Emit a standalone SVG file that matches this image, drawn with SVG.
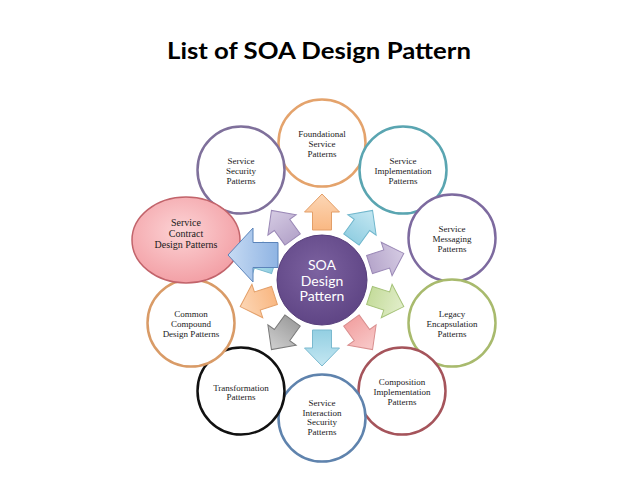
<svg xmlns="http://www.w3.org/2000/svg" xmlns:xlink="http://www.w3.org/1999/xlink" width="638" height="479" viewBox="0 0 638 479">
<style>
.node circle{fill:#ffffff;stroke-width:2.5}
.lbl{font-family:"Liberation Serif","Times New Roman",serif;font-size:9px;fill:#1a1a1a;text-anchor:middle}
.title{font-family:Lato,"Open Sans","Liberation Sans",sans-serif;font-weight:bold;font-size:22px;fill:#000;text-anchor:middle}
.soa{font-family:Lato,"Open Sans","Liberation Sans",sans-serif;font-size:14px;fill:#ffffff;text-anchor:middle}
.arw{stroke-width:1;stroke-linejoin:miter}
</style>
<defs>
<path id="arr" d="M50,-9.5 L68,-9.5 L68,-17.5 L86,0 L68,17.5 L68,9.5 L50,9.5 Z"/>
<linearGradient id="gOr" x1="0" y1="0" x2="1" y2="0"><stop offset="0" stop-color="#f9b883"/><stop offset="1" stop-color="#fcd6b5"/></linearGradient>
<linearGradient id="gLv" x1="0" y1="0" x2="1" y2="0"><stop offset="0" stop-color="#b6a6cb"/><stop offset="1" stop-color="#d5cbe3"/></linearGradient>
<linearGradient id="gCy" x1="0" y1="0" x2="1" y2="0"><stop offset="0" stop-color="#93cfe2"/><stop offset="1" stop-color="#c4e7f2"/></linearGradient>
<linearGradient id="gGr" x1="0" y1="0" x2="1" y2="0"><stop offset="0" stop-color="#c5dc9c"/><stop offset="1" stop-color="#e2eecb"/></linearGradient>
<linearGradient id="gPk" x1="0" y1="0" x2="1" y2="0"><stop offset="0" stop-color="#f2a3a3"/><stop offset="1" stop-color="#f8caca"/></linearGradient>
<linearGradient id="gGy" x1="0" y1="0" x2="1" y2="0"><stop offset="0" stop-color="#9f9f9f"/><stop offset="1" stop-color="#cfcfcf"/></linearGradient>
<linearGradient id="gBl" x1="0" y1="0" x2="1" y2="0"><stop offset="0" stop-color="#c6daf3"/><stop offset="1" stop-color="#8fb4e3"/></linearGradient>
<radialGradient id="gPink" cx="0.45" cy="0.4" r="0.65"><stop offset="0" stop-color="#fcd3d5"/><stop offset="1" stop-color="#f29ca2"/></radialGradient>
<radialGradient id="gSoa" cx="0.45" cy="0.4" r="0.65"><stop offset="0" stop-color="#7c62a0"/><stop offset="1" stop-color="#5d4383"/></radialGradient>
</defs>

<text class="title" x="319" y="59" textLength="304" lengthAdjust="spacingAndGlyphs">List of SOA Design Pattern</text>

<g id="nodes">
<g id="n-foundational" class="node"><circle cx="322" cy="143" r="43.5" stroke="#e4a36c"/>
<text class="lbl"><tspan x="322" y="137">Foundational</tspan><tspan x="322" y="147">Service</tspan><tspan x="322" y="157">Patterns</tspan></text></g>
<g id="n-security" class="node"><circle cx="241" cy="170" r="43.5" stroke="#7f709b"/>
<text class="lbl"><tspan x="241" y="164">Service</tspan><tspan x="241" y="174">Security</tspan><tspan x="241" y="184">Patterns</tspan></text></g>
<g id="n-implementation" class="node"><circle cx="403" cy="170" r="43.5" stroke="#5aa5b1"/>
<text class="lbl"><tspan x="403" y="164">Service</tspan><tspan x="403" y="174">Implementation</tspan><tspan x="403" y="184">Patterns</tspan></text></g>
<g id="n-messaging" class="node"><circle cx="452" cy="238" r="43.5" stroke="#7d6a9f"/>
<text class="lbl"><tspan x="452" y="232">Service</tspan><tspan x="452" y="242">Messaging</tspan><tspan x="452" y="252">Patterns</tspan></text></g>
<g id="n-legacy" class="node"><circle cx="452" cy="323" r="43.5" stroke="#a8ba6d"/>
<text class="lbl"><tspan x="452" y="317">Legacy</tspan><tspan x="452" y="327">Encapsulation</tspan><tspan x="452" y="337">Patterns</tspan></text></g>
<g id="n-composition" class="node"><circle cx="402" cy="391" r="43.5" stroke="#a5545b"/>
<text class="lbl"><tspan x="402" y="385">Composition</tspan><tspan x="402" y="395">Implementation</tspan><tspan x="402" y="405">Patterns</tspan></text></g>
<g id="n-interaction" class="node"><circle cx="322" cy="418" r="43.5" stroke="#5f83ad"/>
<text class="lbl"><tspan x="322" y="406">Service</tspan><tspan x="322" y="415.5">Interaction</tspan><tspan x="322" y="425">Security</tspan><tspan x="322" y="435">Patterns</tspan></text></g>
<g id="n-transformation" class="node"><circle cx="241" cy="391" r="43.5" stroke="#111111"/>
<text class="lbl"><tspan x="241" y="390.5">Transformation</tspan><tspan x="241" y="400">Patterns</tspan></text></g>
<g id="n-compound" class="node"><circle cx="191" cy="323" r="43.5" stroke="#d99b67"/>
<text class="lbl"><tspan x="191" y="317">Common</tspan><tspan x="191" y="327">Compound</tspan><tspan x="191" y="337">Design Patterns</tspan></text></g>
<g id="n-contract" class="node"><ellipse cx="186" cy="240" rx="54" ry="43" fill="url(#gPink)" stroke="#c2646b" stroke-width="1.5"/>
<text class="lbl" style="font-size:10px"><tspan x="186" y="226">Service</tspan><tspan x="186" y="237">Contract</tspan><tspan x="186" y="248">Design Patterns</tspan></text></g>
</g>

<g id="connectors">
<use xlink:href="#arr" href="#arr" class="arw" fill="url(#gCy)" stroke="#7ab9cf" transform="translate(322,280) rotate(-162)"/>
<use xlink:href="#arr" href="#arr" class="arw" fill="url(#gOr)" stroke="#e39f68" transform="translate(322,280) rotate(-90)"/>
<use xlink:href="#arr" href="#arr" class="arw" fill="url(#gLv)" stroke="#9a88b6" transform="translate(322,280) rotate(-126)"/>
<use xlink:href="#arr" href="#arr" class="arw" fill="url(#gCy)" stroke="#6fb6cc" transform="translate(322,280) rotate(-54)"/>
<use xlink:href="#arr" href="#arr" class="arw" fill="url(#gLv)" stroke="#9a88b6" transform="translate(322,280) rotate(-18)"/>
<use xlink:href="#arr" href="#arr" class="arw" fill="url(#gGr)" stroke="#a5c278" transform="translate(322,280) rotate(18)"/>
<use xlink:href="#arr" href="#arr" class="arw" fill="url(#gPk)" stroke="#d98f8f" transform="translate(322,280) rotate(54)"/>
<use xlink:href="#arr" href="#arr" class="arw" fill="url(#gCy)" stroke="#7ab9cf" transform="translate(322,280) rotate(90)"/>
<use xlink:href="#arr" href="#arr" class="arw" fill="url(#gGy)" stroke="#7a7a7a" transform="translate(322,280) rotate(126)"/>
<use xlink:href="#arr" href="#arr" class="arw" fill="url(#gOr)" stroke="#e39f68" transform="translate(322,280) rotate(162)"/>
<path class="arw" d="M278,242.5 L253,242.5 L253,228 L228,255 L253,282 L253,267.5 L278,267.5 Z" fill="url(#gBl)" stroke="#5b84ba" stroke-width="1.2"/>
</g>

<g id="n-soa">
<circle cx="322" cy="280" r="45" fill="url(#gSoa)" stroke="#563d7a" stroke-width="1"/>
<text class="soa"><tspan x="322" y="270">SOA</tspan><tspan x="322" y="285.5">Design</tspan><tspan x="322" y="301">Pattern</tspan></text>
</g>
</svg>
